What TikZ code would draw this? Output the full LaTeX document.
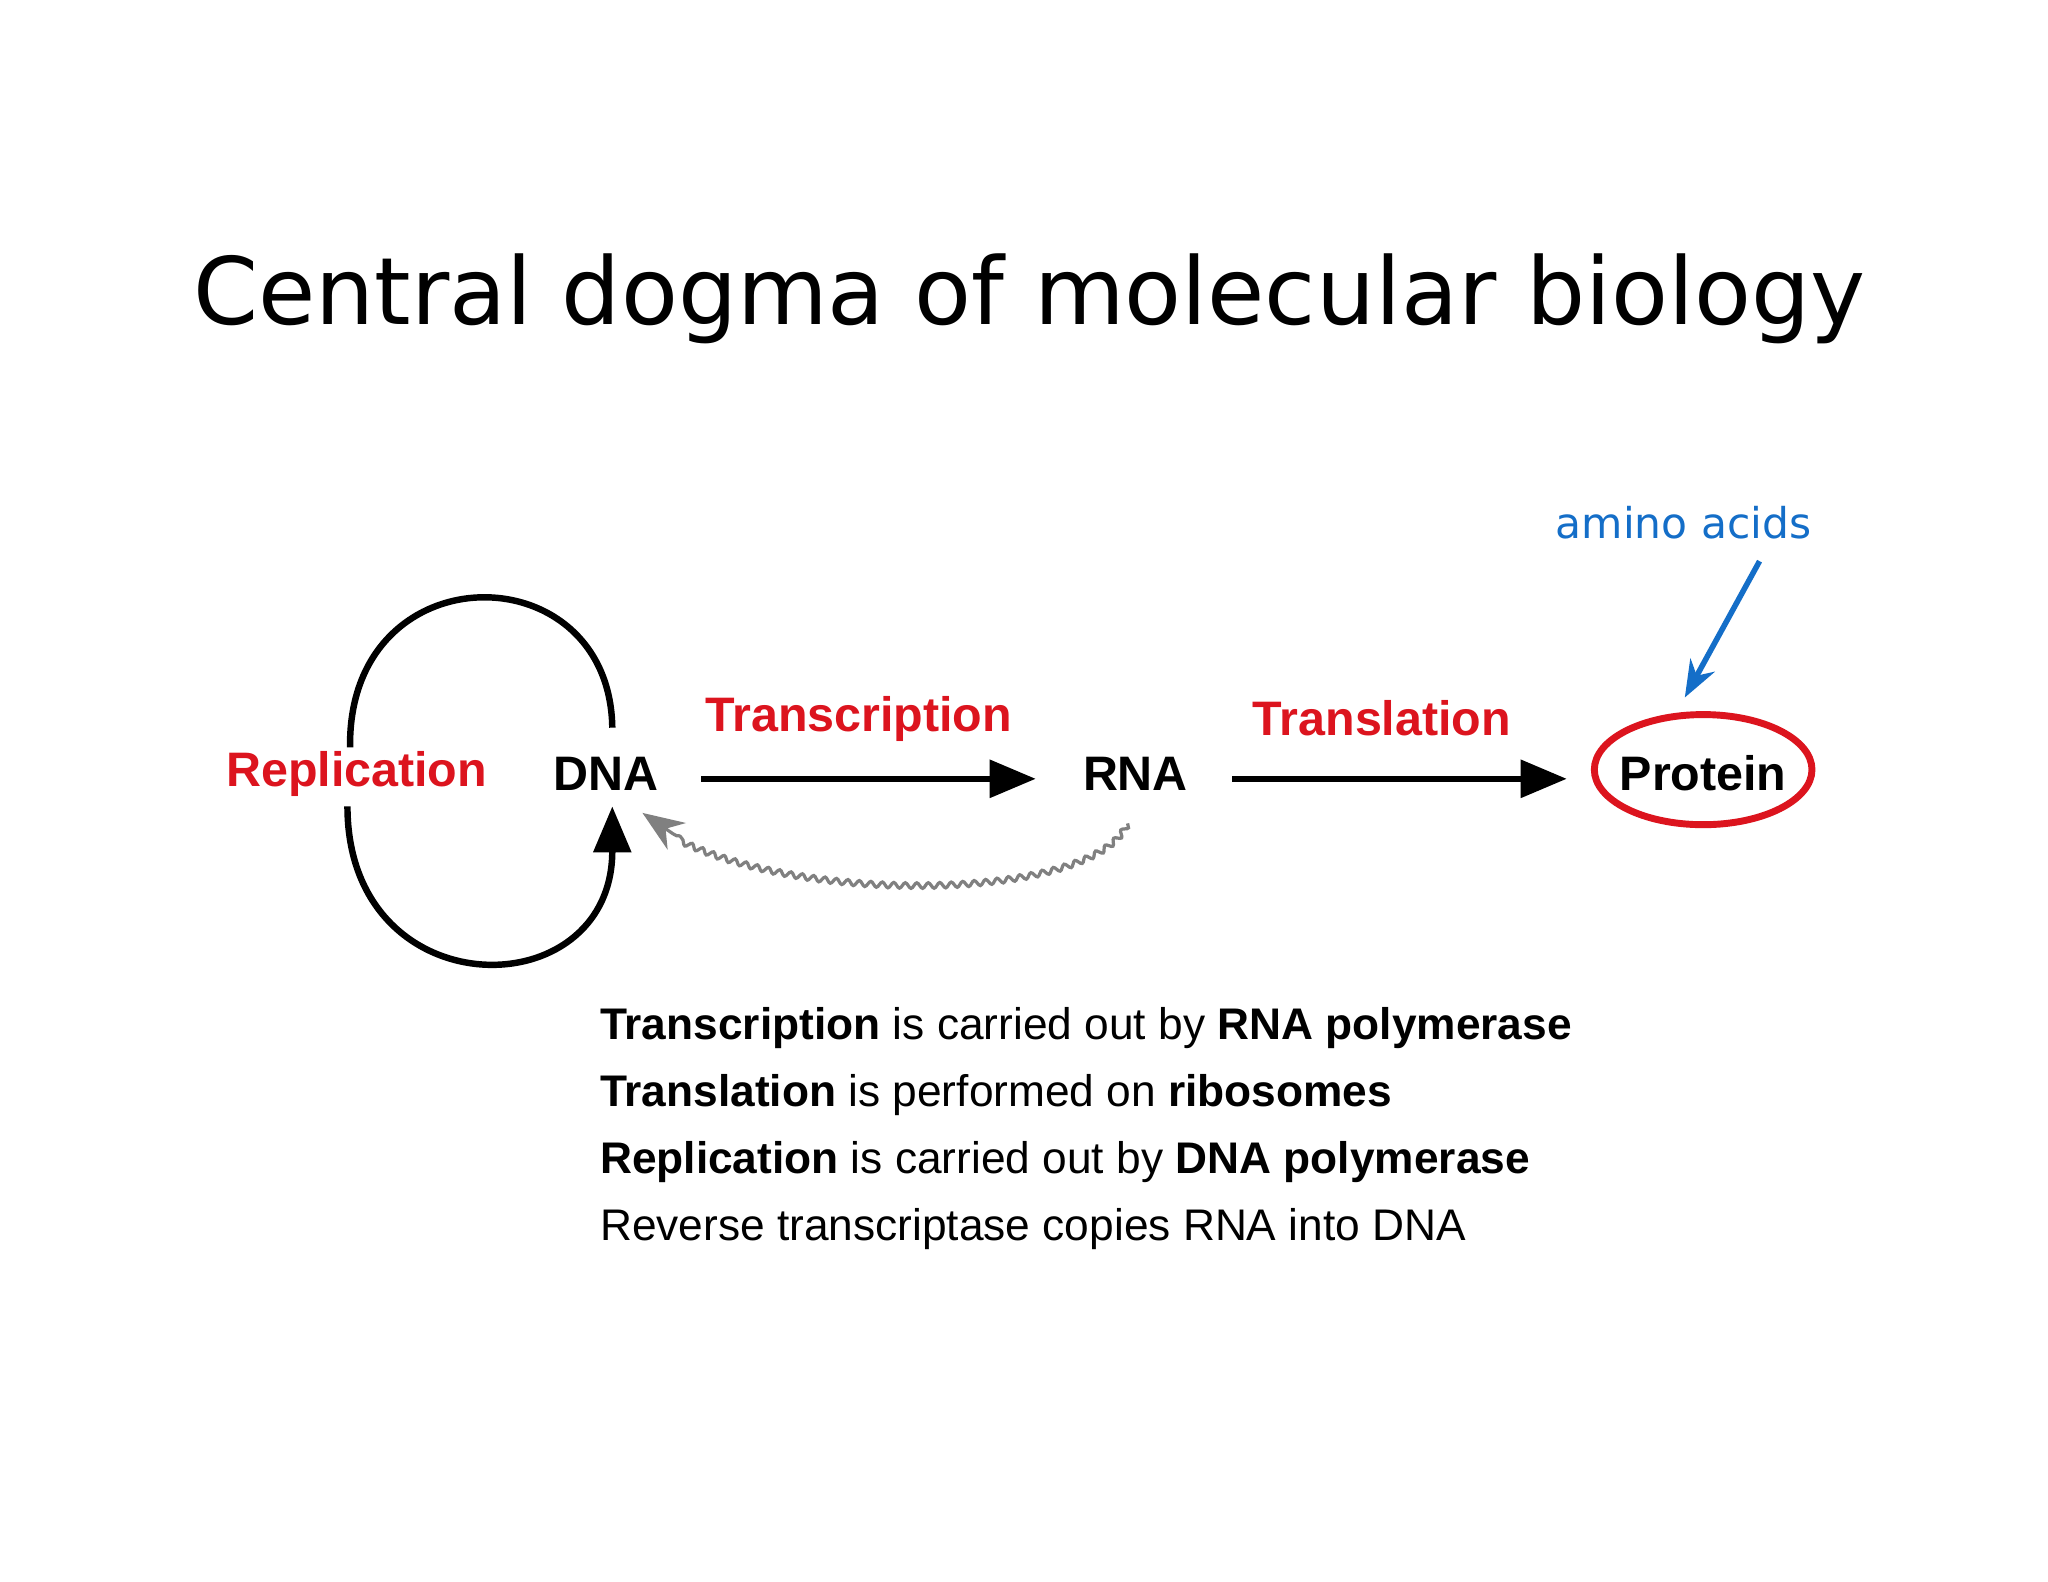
\documentclass[tikz,border=0pt]{standalone}
\usepackage{fontspec}
\setmainfont{Liberation Sans}
\newfontfamily\titlefont{DejaVu Sans}
\usetikzlibrary{arrows.meta,decorations.pathmorphing}
\definecolor{lred}{RGB}{220,20,30}
\definecolor{lblue}{RGB}{20,110,200}
\tikzset{lab/.style={font=\fontsize{10.5}{13}\selectfont\bfseries, inner sep=1pt},
 redlab/.style={lab, text=lred},
 mainarr/.style={line width=1.4pt,-{Triangle[length=10pt,width=8pt]}},
 line/.style={anchor=base west, font=\fontsize{9.6}{11}\selectfont, inner sep=0pt}}
\begin{document}
\begin{tikzpicture}[x=0.01cm,y=-0.01cm]
\useasboundingbox (0,0) rectangle (1562,1206);
\fill[white] (0,0) rectangle (1562,1206);
\node[font=\titlefont\fontsize{20.2}{24}\selectfont] (title) at (785,228) {Central dogma of molecular biology};
\node[text=lblue,font=\titlefont\fontsize{9.2}{11}\selectfont] (amino) at (1284,399) {amino acids};
\node[redlab] (rep) at (272,590) {Replication};
\node[lab] (dna) at (462,590) {DNA};
\node[redlab] (tsc) at (655,548) {Transcription};
\node[lab] (rna) at (866,590) {RNA};
\node[redlab] (tsl) at (1054,548) {Translation};
\node[lab] (prot) at (1299,590) {Protein};
\draw[lred,line width=1.5pt] (1299,587) ellipse (83 and 42);
\coordinate (pt) at (1285,532);
\coordinate (bs) at (1342,428);
\draw[lblue,line width=1.2pt,-{Stealth[length=8pt]}] (bs) -- (pt);
\coordinate (a1) at (535,594); \coordinate (a2) at (790,594);
\coordinate (b1) at (940,594); \coordinate (b2) at (1195,594);
\draw[mainarr] (a1) -- (a2);
\draw[mainarr] (b1) -- (b2);
\coordinate (ls) at (467,555); \coordinate (le) at (467,615);
\coordinate (lt) at (267,570); \coordinate (lb) at (265,615);
\draw[line width=1.4pt] (ls) .. controls (465,420) and (265,420) .. (lt);
\draw[mainarr] (lb) .. controls (265,770) and (467,770) .. (le);
\coordinate (ws) at (860,628); \coordinate (we) at (490,620);
\draw[gray,line width=0.7pt,decorate,decoration={snake,amplitude=0.6pt,segment length=2.5pt,post length=8pt},-{Stealth[length=9pt,width=7pt]}] (ws) .. controls (830,690) and (570,690) .. (we);
\node[line] (l1) at (457,793) {\textbf{Transcription} is carried out by \textbf{RNA polymerase}};
\node[line] (l2) at (457,844) {\textbf{Translation} is performed on \textbf{ribosomes}};
\node[line] (l3) at (457,895) {\textbf{Replication} is carried out by \textbf{DNA polymerase}};
\node[line] (l4) at (457,946) {Reverse transcriptase copies RNA into DNA};
\end{tikzpicture}
\end{document}
